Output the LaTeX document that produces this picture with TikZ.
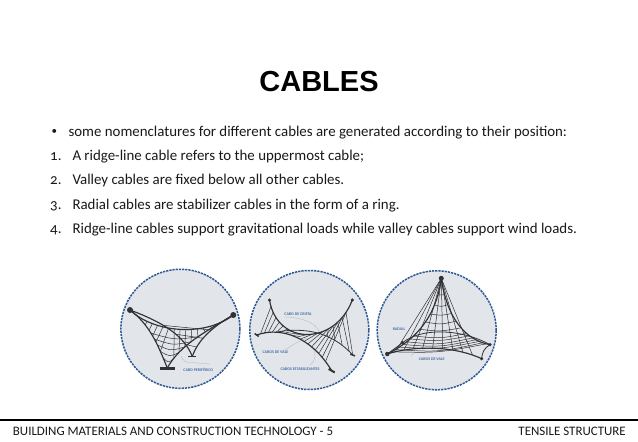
\documentclass[tikz,border=0pt]{standalone}
\usepackage{fontspec}
\setmainfont{Carlito}
\newfontfamily\titlefont{Liberation Sans}
\newfontfamily\oldnum[Numbers=OldStyle]{Carlito}
\usetikzlibrary{calc}
\definecolor{disc}{RGB}{226,229,233}
\definecolor{ring}{RGB}{44,88,148}
\definecolor{cab}{RGB}{50,50,54}
\definecolor{lab}{RGB}{70,110,165}
\definecolor{lead}{RGB}{185,188,192}
\tikzset{
 x=1pt,y=-1pt,
 discs/.style={circle,fill=disc,draw=ring,line width=1.5pt,dash pattern=on 2.2pt off 1pt,minimum size=119pt,inner sep=0pt},
 main/.style={cab,line width=1.15pt},
 thin cable/.style={cab,line width=0.5pt},
 mid cable/.style={cab,line width=0.8pt},
 anchorpt/.style={circle,fill=cab,minimum size=6pt,inner sep=0pt},
 small anchor/.style={circle,fill=cab,minimum size=3.5pt,inner sep=0pt},
 basebar/.style={fill=cab,inner sep=0pt},
 lbl/.style={lab,font=\fontsize{4}{5}\selectfont\bfseries,inner sep=0pt},
 leader/.style={lead,line width=0.4pt},
 body/.style={anchor=base west,inner sep=0pt,font=\fontsize{14.9}{18}\selectfont,text=black!90},
 foot/.style={anchor=base west,inner sep=0pt,font=\fontsize{12.95}{16}\selectfont,text=black!90},
}
% curve through given controls, with 21 named sample points name0..name20
\newcommand\curvepts[6][main]{%
 \path[draw,#1] (#3) .. controls (#4) and (#5) .. (#6)
   foreach \k in {0,...,20} {coordinate[pos={\k*0.05}] (#2\k)};}
\newcommand\sagline[3]{\draw[thin cable] (#1) .. controls ($(#1)!.5!(#2)+(0,#3)$) .. (#2);}
\begin{document}
\begin{tikzpicture}
\useasboundingbox (0,0) rectangle (638,442);
\fill[white] (0,0) rectangle (638,442);
\node[anchor=base,inner sep=0pt,font=\titlefont\bfseries\fontsize{29}{32}\selectfont] (title) at (319,91.5) {CABLES};
\node[anchor=base west,inner sep=0pt,font=\fontsize{11}{12}\selectfont,text=black!90] (b0) at (51.5,134.5) {•};
\node[body] (t0) at (68.3,136) {some nomenclatures for different cables are generated according to their position:};
\node[body] (b1) at (50,160.4) {\oldnum 1.};
\node[body] (t1) at (72.3,160.4) {A ridge-line cable refers to the uppermost cable;};
\node[body] (b2) at (50,184.8) {\oldnum 2.};
\node[body] (t2) at (72.3,184.8) {Valley cables are fixed below all other cables.};
\node[body] (b3) at (50,209.2) {\oldnum 3.};
\node[body] (t3) at (72.3,209.2) {Radial cables are stabilizer cables in the form of a ring.};
\node[body] (b4) at (50,233.6) {\oldnum 4.};
\node[body] (t4) at (72.3,233.6) {Ridge-line cables support gravitational loads while valley cables support wind loads.};
\draw[black,line width=1.3pt] (0,420) -- (638,420);
\node[foot] (fl) at (12.7,435.3) {BUILDING MATERIALS AND CONSTRUCTION TECHNOLOGY - 5};
\node[foot,anchor=base east] (fr) at (626,435.3) {TENSILE STRUCTURE};

% ---------- disc 1
\node[discs] (d1) at (180.4,328.8) {};
\coordinate (L1) at (130,310); \coordinate (R1) at (233.3,315);
\coordinate (B1) at (167.3,368); \coordinate (S1) at (192.3,356.5);
\curvepts{ra}{L1}{154,333}{205,337}{R1}
\curvepts{le}{L1}{150,325}{158,345}{B1}
\curvepts{ri}{R1}{205,332}{180,345}{B1}
\curvepts{sl}{L1}{162,322}{184,335}{S1}
\curvepts{sr}{R1}{212,327}{198,340}{S1}
\foreach \a/\b in {4/le6,5/le8,6/le10,7/le12,8/le15,9/ri17,10/ri15,11/ri13,12/ri11,13/ri9,14/ri7,15/ri5,16/ri3}{
 \draw[thin cable] (ra\a) -- (\b);}
\foreach \a in {9,11,13,15,17}{ \sagline{le\a}{ri\a}{5} }
\foreach \a in {8,12,16}{ \draw[thin cable] (sl\a) -- (sr\a); }
\node[anchorpt] (aL1) at (L1) {}; \node[anchorpt] (aR1) at (R1) {};
\node[basebar,minimum width=15pt,minimum height=3pt] (bB1) at (B1) {};
\node[basebar,minimum width=8pt,minimum height=1.5pt] (bS1) at (S1) {};
\draw[leader] (181,356) .. controls (183,361) and (186,363) .. (191,362.5) -- (210,364);
\node[lbl] (l1) at (198.3,369.7) {CABO PERIFÉRICO};

% ---------- disc 2
\node[discs] (d2) at (309.3,330) {};
\coordinate (L2) at (269.5,300); \coordinate (R2) at (352.3,300);
\coordinate (VL) at (256.7,335); \coordinate (VR) at (331.7,370.7);
\coordinate (VE) at (352.7,355); \coordinate (VS) at (278.3,331.7);
\draw[leader] (284,317) .. controls (300,317) and (316,322) .. (320,333);
\draw[leader] (283,351) .. controls (290,347) and (300,340) .. (307,338);
\draw[leader] (310,365) .. controls (317,360) and (316,352) .. (312,346);
\curvepts{rb}{L2}{277,346}{335,346}{R2}
\curvepts{ar}{VL}{282,326}{312,338}{VR}
\curvepts[mid cable]{vb}{VS}{302,328}{330,330}{VE}
\foreach \a/\b in {1/1,2/2,3/3,4/4,5/5,6/6,7/7,8/8,9/9,10/10,11/11,12/12,13/13,14/14,15/15,16/16,17/17,18/18}{
 \draw[thin cable] (rb\a) -- (ar\b);}
\foreach \a/\b in {13/11,14/13,15/15,16/17,17/19,18/20}{
 \draw[thin cable] (rb\a) -- (vb\b);}
\node[small anchor] (aL2) at (L2) {}; \node[small anchor] (aR2) at (R2) {};
\node[basebar,minimum width=5pt,minimum height=1.5pt,rotate=-35] (bVL) at (VL) {};
\node[basebar,minimum width=7pt,minimum height=2pt,rotate=-30] (bVR) at (VR) {};
\node[basebar,minimum width=5pt,minimum height=1.5pt,rotate=-20] (bVE) at (VE) {};
\node[lbl] (l2a) at (298,314.3) {CABO DE CRISTA};
\node[lbl] (l2b) at (275.5,352.3) {CABOS DE VALE};
\node[lbl] (l2c) at (300,369) {CABOS ESTABILIZANTES};

% ---------- disc 3
\node[discs] (d3) at (436.7,330.3) {};
\coordinate (T) at (441.3,278.3); \coordinate (A3) at (387.3,354);
\coordinate (C3) at (490,344.7); \coordinate (K3) at (402.7,342.7);
\coordinate (E3) at (481.7,358.7);
\curvepts{ea}{T}{436,318}{415,340}{A3}
\curvepts{ec}{T}{447,318}{465,340}{C3}
\curvepts{fr}{A3}{412,346}{452,345}{E3}
\curvepts[mid cable]{bk}{K3}{420,328}{460,328}{C3}
\foreach \i in {2,4,...,18}{ \draw[thin cable] (T) -- (fr\i); }
\foreach \a/\s in {3/1,5/2,7/2,9/3,11/3,13/4,14/4,15/5,16/5,17/5,18/6,19/5}{ \sagline{ea\a}{ec\a}{\s} }
\draw[mid cable] (C3) .. controls (484,348) and (482,353) .. (E3);
\draw[mid cable] (A3) -- (K3);
\node[anchorpt,minimum size=5pt] (aT) at (T) {};
\node[anchorpt,minimum size=4.5pt] (aA3) at (A3) {};
\node[small anchor] (aC3) at (C3) {};
\node[small anchor] (aE3) at (E3) {};
\node[small anchor] (aK3) at (K3) {};
\draw[leader] (411,356) .. controls (413,354) and (414,352) .. (416,350);
\node[lbl] (l3a) at (399,329.5) {RADIAL};
\node[lbl] (l3b) at (431.7,359) {CABOS DE VALE};
\end{tikzpicture}
\end{document}
